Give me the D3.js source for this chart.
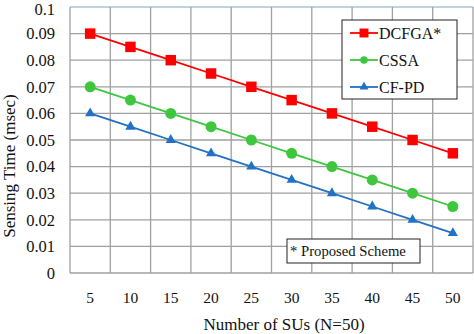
<!DOCTYPE html>
<html>
<head>
<meta charset="utf-8">
<script src="https://cdn.jsdelivr.net/npm/d3@7"></script>
<style>
  html, body { margin: 0; padding: 0; background: #fff; }
  svg text { font-family: "Liberation Serif", "Times New Roman", serif; fill: #111; }
</style>
</head>
<body>
<svg id="chart" width="474" height="334"></svg>
<script>
// Number of secondary users
const categories = [5, 10, 15, 20, 25, 30, 35, 40, 45, 50];
// Sensing time (msec) per scheme
const dcfga = [0.09, 0.085, 0.08, 0.075, 0.07, 0.065, 0.06, 0.055, 0.05, 0.045];
const cssa  = [0.07, 0.065, 0.06, 0.055, 0.05, 0.045, 0.04, 0.035, 0.03, 0.025];
const cfpd  = [0.06, 0.055, 0.05, 0.045, 0.04, 0.035, 0.03, 0.025, 0.02, 0.015];
const yTicks = [0, 0.01, 0.02, 0.03, 0.04, 0.05, 0.06, 0.07, 0.08, 0.09, 0.1];
const yTickLabels = ["0", "0.01", "0.02", "0.03", "0.04", "0.05", "0.06", "0.07", "0.08", "0.09", "0.1"];
const seriesNames = ["DCFGA*", "CSSA", "CF-PD"];
const seriesColors = ["#ff0000", "#3fc63f", "#2272c3"];
const seriesShapes = [d3.symbolSquare, d3.symbolCircle, d3.symbolTriangle];
const seriesSizes = [110, 95, 45];

const svg = d3.select("#chart");
const margin = { left: 70, right: 1, top: 7, bottom: 61 };
const W = 474, H = 334;

const x = d3.scaleBand().domain(categories).range([margin.left, W - margin.right]);
const y = d3.scaleLinear().domain([0, 0.1]).range([H - margin.bottom, margin.top]);

// Horizontal gridlines
svg.append("g").selectAll("line").data(yTicks).join("line")
  .attr("x1", margin.left).attr("x2", W - margin.right)
  .attr("y1", d => y(d)).attr("y2", d => y(d))
  .attr("stroke", d => d === 0.1 ? "#a9c2dc" : "#a0a0a0").attr("stroke-width", 1.3);

// Vertical gridlines at band boundaries
const bounds = categories.map(c => x(c)).concat([x(categories[categories.length - 1]) + x.bandwidth()]);
svg.append("g").selectAll("line").data(bounds).join("line")
  .attr("x1", d => d).attr("x2", d => d)
  .attr("y1", y(0.1)).attr("y2", y(0))
  .attr("stroke", "#a0a0a0").attr("stroke-width", 1.3);

// Y tick labels (the topmost one nudged down so it stays inside the canvas)
svg.append("g").selectAll("text").data(yTicks).join("text")
  .attr("x", 55).attr("y", d => Math.max(y(d), 9)).attr("dy", "0.35em")
  .attr("text-anchor", "end").attr("font-size", 16.5)
  .text((d, i) => yTickLabels[i]);

// X tick labels
svg.append("g").selectAll("text").data(categories).join("text")
  .attr("x", d => x(d) + x.bandwidth() / 2).attr("y", 303)
  .attr("text-anchor", "middle").attr("font-size", 15.5)
  .text(d => d);

// Axis titles
svg.append("text").attr("x", 284).attr("y", 330)
  .attr("text-anchor", "middle").attr("font-size", 17)
  .text("Number of SUs (N=50)");
svg.append("text")
  .attr("transform", "translate(15,166) rotate(-90)")
  .attr("text-anchor", "middle").attr("font-size", 17)
  .text("Sensing Time (msec)");

// Series lines and markers
const allSeries = [dcfga, cssa, cfpd];
const line = d3.line()
  .x((d, i) => x(categories[i]) + x.bandwidth() / 2)
  .y(d => y(d));

allSeries.forEach((vals, s) => {
  svg.append("path").datum(vals)
    .attr("d", line).attr("fill", "none")
    .attr("stroke", seriesColors[s]).attr("stroke-width", 1.8);
  svg.append("g").selectAll("path").data(vals).join("path")
    .attr("transform", (d, i) => "translate(" + (x(categories[i]) + x.bandwidth() / 2) + "," + y(d) + ")")
    .attr("d", d3.symbol().type(seriesShapes[s]).size(seriesSizes[s]))
    .attr("fill", seriesColors[s]);
});

// Legend
const lg = svg.append("g");
lg.append("rect").attr("x", 342).attr("y", 20).attr("width", 115).attr("height", 79)
  .attr("fill", "#fff").attr("stroke", "#222").attr("stroke-width", 1);
seriesNames.forEach((name, s) => {
  const ly = 33 + s * 27;
  lg.append("line").attr("x1", 350).attr("x2", 378).attr("y1", ly).attr("y2", ly)
    .attr("stroke", seriesColors[s]).attr("stroke-width", 1.8);
  lg.append("path").attr("transform", "translate(364," + ly + ")")
    .attr("d", d3.symbol().type(seriesShapes[s]).size(s === 0 ? 80 : (s === 1 ? 45 : 35)))
    .attr("fill", seriesColors[s]);
  lg.append("text").attr("x", 379).attr("y", ly).attr("dy", "0.35em")
    .attr("font-size", 16).text(name);
});

// Note box
svg.append("rect").attr("x", 287).attr("y", 239).attr("width", 133).attr("height", 24)
  .attr("fill", "#fff").attr("stroke", "#222").attr("stroke-width", 1);
svg.append("text").attr("x", 290).attr("y", 251).attr("dy", "0.35em")
  .attr("font-size", 14.7).text("* Proposed Scheme");
</script>
</body>
</html>
